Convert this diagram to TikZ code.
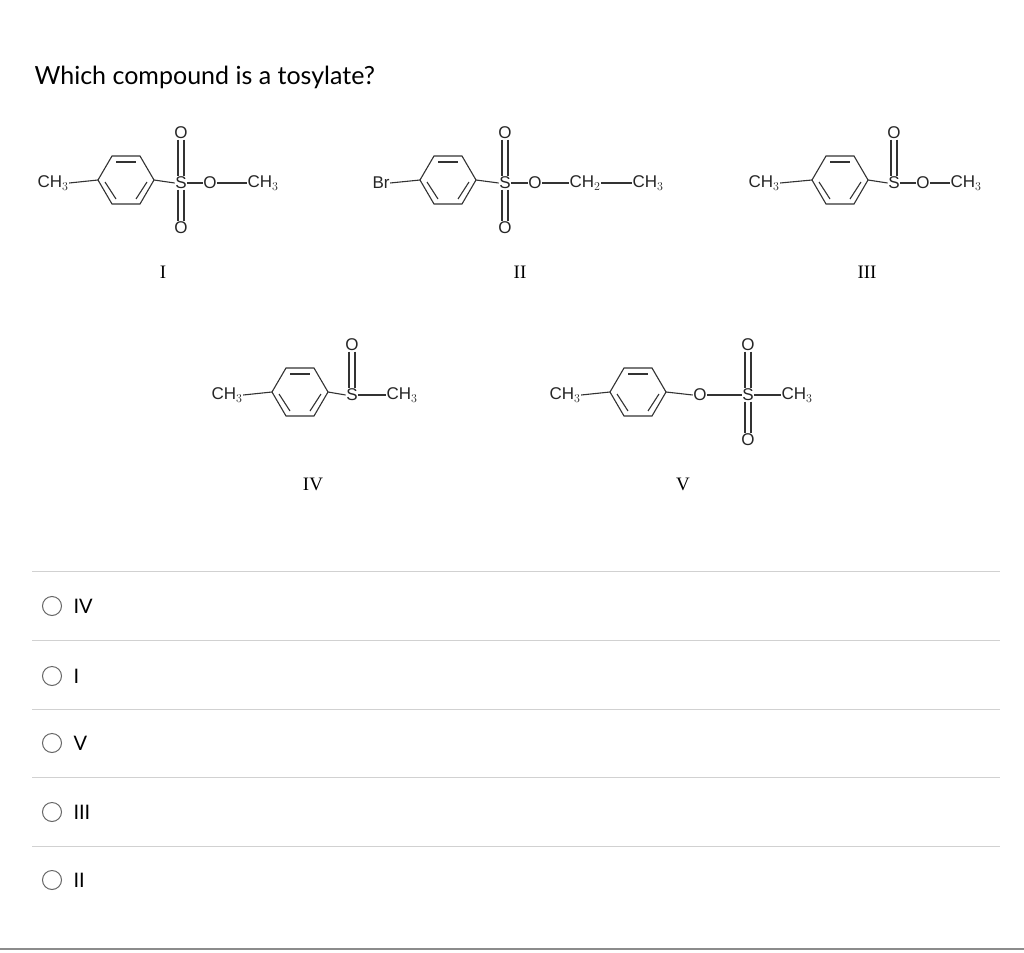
\documentclass[tikz,border=0pt]{standalone}
\usepackage{fontspec}
\setmainfont{Liberation Sans}
\newfontfamily\latofont{Lato}
\newfontfamily\romfont{Liberation Serif}
\tikzset{
  atm/.style={inner sep=0.5pt,font=\fontsize{17}{17}\selectfont,text=black!85},
  bnd/.style={line width=1.1pt,black!80},
  rom/.style={font=\romfont\fontsize{19}{19}\selectfont},
  ans/.style={font=\latofont\fontsize{20}{20}\selectfont,anchor=west},
  sep/.style={black!18,line width=1pt},
  radio/.style={draw=black!60,line width=1pt,circle,minimum size=19pt,inner sep=0pt}
}
\newcommand\ringat[3]{% name, x, y
  \coordinate (#1L) at (#2-28,#3);
  \coordinate (#1R) at (#2+28,#3);
  \draw[bnd] (#2-28,#3) -- (#2-14,#3-24) -- (#2+14,#3-24) -- (#2+28,#3) -- (#2+14,#3+24) -- (#2-14,#3+24) -- cycle;
  \draw[bnd] (#2-10,#3-18) -- (#2+10,#3-18);
  \draw[bnd] (#2-21,#3+2) -- (#2-10,#3+19);
  \draw[bnd] (#2+21,#3+2) -- (#2+10,#3+19);
}
\newcommand\dbl[2]{\draw[bnd] ([xshift=-3pt]#1) -- ([xshift=-3pt]#2); \draw[bnd] ([xshift=3pt]#1) -- ([xshift=3pt]#2);}
\begin{document}
\begin{tikzpicture}[x=1pt,y=-1pt]
\useasboundingbox[fill=white] (0,0) rectangle (1024,952);
\node[anchor=west,font=\latofont\fontsize{25}{25}\selectfont] (title) at (31,77) {Which compound is a tosylate?};
% I
\node[atm] (c1) at (53,183) {CH$_3$};
\ringat{r1}{126}{180}
\node[atm] (s1) at (181,183) {S};
\node[atm] (o1) at (210,183) {O};
\node[atm] (m1) at (263,183) {CH$_3$};
\node[atm] (o1t) at (181,133) {O};
\node[atm] (o1b) at (181,228) {O};
\draw[bnd] (c1.east) -- (r1L); \draw[bnd] (r1R) -- (s1.west);
\draw[bnd] (s1.east) -- (o1.west); \draw[bnd] (o1.east) -- (m1.west);
\dbl{o1t.south}{s1.north} \dbl{s1.south}{o1b.north}
\node[rom] (l1) at (163,272) {I};
% II
\node[atm] (br) at (381,183) {Br};
\ringat{r2}{448}{180}
\node[atm] (s2) at (505,183) {S};
\node[atm] (o2) at (535,183) {O};
\node[atm] (m2a) at (585,183) {CH$_2$};
\node[atm] (m2b) at (648,183) {CH$_3$};
\node[atm] (o2t) at (505,133) {O};
\node[atm] (o2b) at (505,228) {O};
\draw[bnd] (br.east) -- (r2L); \draw[bnd] (r2R) -- (s2.west);
\draw[bnd] (s2.east) -- (o2.west); \draw[bnd] (o2.east) -- (m2a.west); \draw[bnd] (m2a.east) -- (m2b.west);
\dbl{o2t.south}{s2.north} \dbl{s2.south}{o2b.north}
\node[rom] (l2) at (520,272) {II};
% III
\node[atm] (c3) at (764,183) {CH$_3$};
\ringat{r3}{840}{180}
\node[atm] (s3) at (894,183) {S};
\node[atm] (o3) at (923,183) {O};
\node[atm] (m3) at (966,183) {CH$_3$};
\node[atm] (o3t) at (894,133) {O};
\draw[bnd] (c3.east) -- (r3L); \draw[bnd] (r3R) -- (s3.west);
\draw[bnd] (s3.east) -- (o3.west); \draw[bnd] (o3.east) -- (m3.west);
\dbl{o3t.south}{s3.north}
\node[rom] (l3) at (867,272) {III};
% IV
\node[atm] (c4) at (227,395) {CH$_3$};
\ringat{r4}{300}{392}
\node[atm] (s4) at (352,395) {S};
\node[atm] (m4) at (402,395) {CH$_3$};
\node[atm] (o4t) at (352,345) {O};
\draw[bnd] (c4.east) -- (r4L); \draw[bnd] (r4R) -- (s4.west);
\draw[bnd] (s4.east) -- (m4.west);
\dbl{o4t.south}{s4.north}
\node[rom] (l4) at (313,484) {IV};
% V
\node[atm] (c5) at (565,395) {CH$_3$};
\ringat{r5}{638}{392}
\node[atm] (o5) at (700,395) {O};
\node[atm] (s5) at (748,395) {S};
\node[atm] (m5) at (797,395) {CH$_3$};
\node[atm] (o5t) at (748,345) {O};
\node[atm] (o5b) at (748,440) {O};
\draw[bnd] (c5.east) -- (r5L); \draw[bnd] (r5R) -- (o5.west);
\draw[bnd] (o5.east) -- (s5.west); \draw[bnd] (s5.east) -- (m5.west);
\dbl{o5t.south}{s5.north} \dbl{s5.south}{o5b.north}
\node[rom] (l5) at (683,484) {V};
% answers
\foreach \y in {571,640,709,777,846} \draw[sep] (32,\y) -- (1000,\y);
\node[radio] (ra) at (52,606) {}; \node[ans] (ta) at (70,606) {IV};
\node[radio] (rb) at (52,676) {}; \node[ans] (tb) at (70,676) {I};
\node[radio] (rc) at (52,743) {}; \node[ans] (tc) at (70,743) {V};
\node[radio] (rd) at (52,812) {}; \node[ans] (td) at (70,812) {III};
\node[radio] (re) at (52,880) {}; \node[ans] (te) at (70,880) {II};
\draw[black!45,line width=2pt] (0,949) -- (1024,949);
\end{tikzpicture}
\end{document}
